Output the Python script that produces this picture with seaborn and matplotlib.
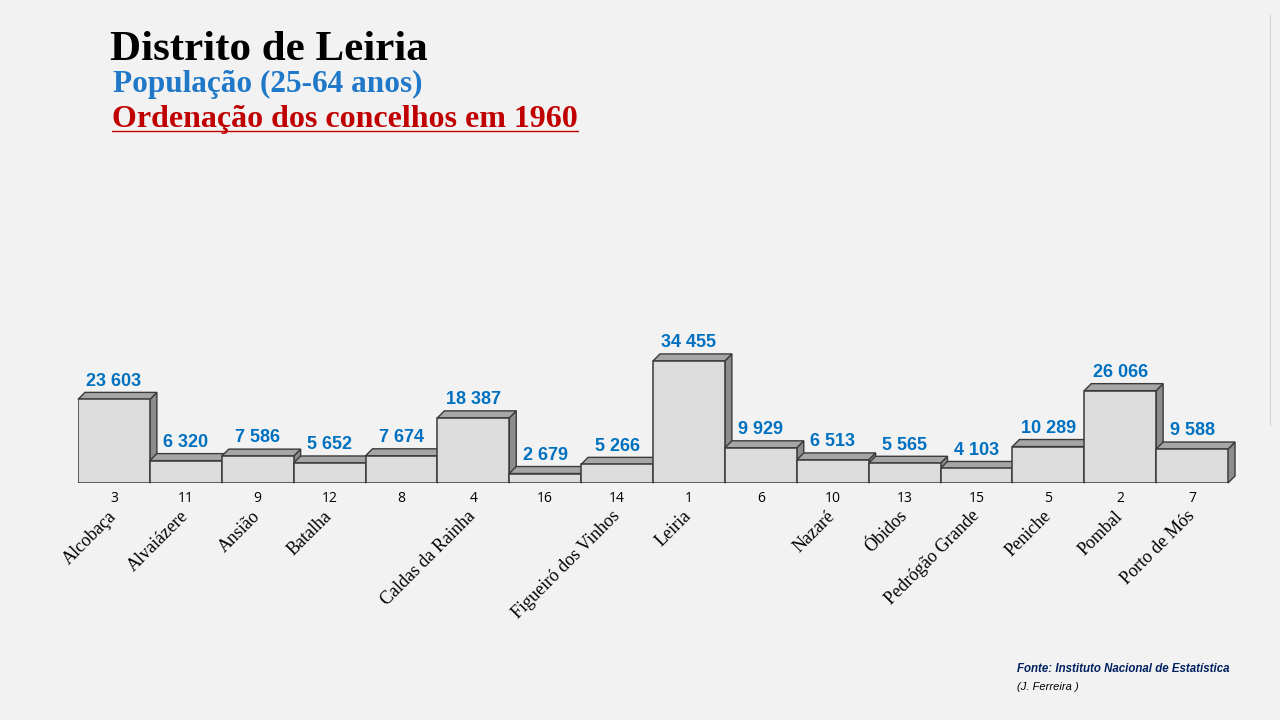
import matplotlib
matplotlib.use('Agg')
import matplotlib.pyplot as plt
from matplotlib.patches import Polygon
from matplotlib.lines import Line2D
import seaborn as sns
import pandas as pd

# dados: populacao 25-64 anos, 1960
concelhos = ['Alcobaça', 'Alvaiázere', 'Ansião', 'Batalha', 'Bombarral', 'Caldas da Rainha',
             'Castanheira de Pêra', 'Figueiró dos Vinhos', 'Leiria', 'Marinha Grande', 'Nazaré',
             'Óbidos', 'Pedrógão Grande', 'Peniche', 'Pombal', 'Porto de Mós']
populacao = [23603, 6320, 7586, 5652, 7674, 18387, 2679, 5266,
             34455, 9929, 6513, 5565, 4103, 10289, 26066, 9588]
ordem = [3, 11, 9, 12, 8, 4, 16, 14, 1, 6, 10, 13, 15, 5, 2, 7]
# rotulos que o Excel omitiu no original
rotulos_ocultos = ['Bombarral', 'Castanheira de Pêra', 'Marinha Grande']

sns.set_style('white')
plt.rcParams['font.family'] = ['Liberation Sans', 'DejaVu Sans']

W, H = 1280, 720
fig = plt.figure(figsize=(12.8, 7.2), dpi=100, facecolor='#f2f2f2')
ax = fig.add_axes([78 / W, (H - 483) / H, 1150 / W, 333 / H])
ax.set_facecolor('none')

df = pd.DataFrame({'concelho': concelhos, 'populacao': populacao})
sns.barplot(data=df, x='concelho', y='populacao', color='#dcdcdc', saturation=1,
            width=1.0, edgecolor='#3a3a3a', linewidth=1.1, ax=ax, zorder=3)
ax.set_xlim(-0.5, len(concelhos) - 0.5)
ax.set_ylim(0, 94000)
ax.axis('off')

# profundidade 3D (7 px)
dx = 7 * len(concelhos) / 1150
dy = 7 * 94000 / 333

for i, p in enumerate(ax.patches):
    x0, w, h = p.get_x(), p.get_width(), p.get_height()
    side = Polygon([(x0 + w, 0), (x0 + w + dx, dy), (x0 + w + dx, h + dy), (x0 + w, h)],
                   closed=True, fc='#8c8c8c', ec='#3a3a3a', lw=1.0, zorder=2, clip_on=False)
    top = Polygon([(x0, h), (x0 + dx, h + dy), (x0 + w + dx, h + dy), (x0 + w, h)],
                  closed=True, fc='#a6a6a6', ec='#3a3a3a', lw=1.0, zorder=2, clip_on=False)
    ax.add_patch(side)
    ax.add_patch(top)

    ax.annotate(f'{populacao[i]:,}'.replace(',', ' '), xy=(x0 + w / 2, h + dy),
                xytext=(0, 2), textcoords='offset points', ha='center', va='bottom',
                color='#0070c0', fontsize=13, fontweight='bold')
    ax.annotate(str(ordem[i]), xy=(i, 0), xytext=(0, -6), textcoords='offset points',
                ha='center', va='top', fontsize=10, color='black',
                family=['Open Sans', 'DejaVu Sans'])
    if concelhos[i] not in rotulos_ocultos:
        ax.annotate(concelhos[i], xy=(i, 0), xytext=(0, -22), textcoords='offset points',
                    ha='right', va='center', rotation=45, rotation_mode='anchor',
                    fontsize=13, color='black', family=['Liberation Serif', 'DejaVu Serif'])

serif = ['Liberation Serif', 'DejaVu Serif']
fig.text(110 / W, 1 - 60 / H, 'Distrito de Leiria', fontsize=31, fontweight='bold',
         family=serif, color='black', va='baseline')
fig.text(113 / W, 1 - 92 / H, 'População (25-64 anos)', fontsize=22.5, fontweight='bold',
         family=serif, color='#1f78c8', va='baseline')
t3 = fig.text(112 / W, 1 - 127 / H, 'Ordenação dos concelhos em 1960', fontsize=23,
              fontweight='bold', family=serif, color='#c00000', va='baseline')

fig.canvas.draw()
bb = t3.get_window_extent(fig.canvas.get_renderer())
fig.add_artist(Line2D([bb.x0 / W, bb.x1 / W], [1 - 131 / H, 1 - 131 / H],
                      transform=fig.transFigure, color='#c00000', lw=1.0))

# linha vertical fina a direita
fig.add_artist(Line2D([1270 / W, 1270 / W], [1 - 15 / H, 1 - 425 / H],
                      transform=fig.transFigure, color='#d0d0d0', lw=0.8))

fig.text(1017 / W, 1 - 669 / H, 'Fonte: Instituto Nacional de Estatística', fontsize=8.3,
         fontweight='bold', style='italic', color='#002060', va='center')
fig.text(1017 / W, 1 - 687 / H, '(J. Ferreira )', fontsize=8, style='italic',
         color='black', va='center')

fig.savefig('out.png', dpi=100, facecolor=fig.get_facecolor())
